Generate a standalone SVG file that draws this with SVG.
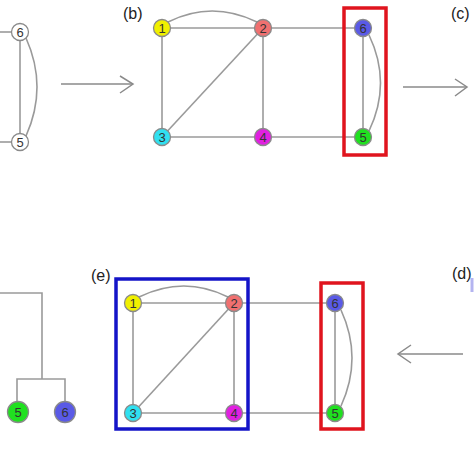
<svg xmlns="http://www.w3.org/2000/svg" width="474" height="474" viewBox="0 0 474 474">
<style>
.e{stroke:#9a9a9a;stroke-width:1.6;fill:none}
.n{stroke:#8a8a8a;stroke-width:1.3}
.t{font-family:"Liberation Sans",Arial,sans-serif;font-size:13px;fill:#333;text-anchor:middle;dominant-baseline:central}
.lab{font-family:"Liberation Sans",Arial,sans-serif;font-size:16px;fill:#222}
.ar{stroke:#8a8a8a;stroke-width:1.5;fill:none}
</style>
<rect width="474" height="474" fill="#fff"/>
<g id="connectors">
<line class="e" x1="0" y1="32" x2="12" y2="32"/>
<line class="e" x1="0" y1="142" x2="12" y2="142"/>
<line class="e" x1="20" y1="32" x2="20" y2="142"/>
<path class="e" d="M26 38 Q48 87 26 136"/>
<line class="e" x1="162" y1="28" x2="263" y2="28"/>
<path class="e" d="M168 22 Q212 0 257 22"/>
<line class="e" x1="162" y1="28" x2="162" y2="137"/>
<line class="e" x1="263" y1="28" x2="263" y2="137"/>
<line class="e" x1="162" y1="137" x2="263" y2="137"/>
<line class="e" x1="162" y1="137" x2="263" y2="28"/>
<line class="e" x1="263" y1="28" x2="363" y2="28"/>
<line class="e" x1="263" y1="137" x2="363" y2="137"/>
<line class="e" x1="363" y1="28" x2="363" y2="137"/>
<path class="e" d="M369 35 Q392 83 369 131"/>
<line class="e" x1="133" y1="303" x2="234" y2="303"/>
<path class="e" d="M139 297 Q184 275 228 297"/>
<line class="e" x1="133" y1="303" x2="133" y2="413"/>
<line class="e" x1="234" y1="303" x2="234" y2="413"/>
<line class="e" x1="133" y1="413" x2="234" y2="413"/>
<line class="e" x1="133" y1="413" x2="234" y2="303"/>
<line class="e" x1="234" y1="303" x2="335" y2="303"/>
<line class="e" x1="234" y1="413" x2="335" y2="413"/>
<line class="e" x1="335" y1="303" x2="335" y2="413"/>
<path class="e" d="M341 310 Q363 358 341 406"/>
<polyline class="e" points="0,293 42,293 42,379"/>
<polyline class="e" points="17,401 17,379 65,379 65,401"/>
<line class="ar" x1="61" y1="84" x2="133" y2="84"/>
<polyline class="ar" points="120,76 133,84 120,93"/>
<line class="ar" x1="403" y1="87" x2="467" y2="87"/>
<polyline class="ar" points="455,79 467,87 455,96"/>
<line class="ar" x1="398" y1="354" x2="463" y2="354"/>
<polyline class="ar" points="411,345 398,354 411,363"/>
</g>
<g id="boxes">
<rect x="344" y="8" width="42" height="147" fill="none" stroke="#e0141e" stroke-width="3.5"/>
<rect x="321" y="283" width="42" height="146" fill="none" stroke="#e0141e" stroke-width="3.5"/>
<rect x="116" y="279" width="132" height="150" fill="none" stroke="#1414c8" stroke-width="3.5"/>
<line x1="472" y1="278" x2="472" y2="292" stroke="#b4b4f0" stroke-width="3"/>
</g>
<g id="labels">
<text class="lab" x="123" y="19">(b)</text>
<text class="lab" x="451" y="19">(c)</text>
<text class="lab" x="91" y="281">(e)</text>
<text class="lab" x="452" y="279">(d)</text>
</g>
<g id="node-a6"><circle class="n" cx="20" cy="32" r="8.5" fill="#fff"/><text class="t" x="20" y="32">6</text></g>
<g id="node-a5"><circle class="n" cx="20" cy="142" r="8.5" fill="#fff"/><text class="t" x="20" y="142">5</text></g>
<g id="node-b1"><circle class="n" cx="162" cy="28" r="8.5" fill="#f0f000"/><text class="t" x="162" y="28">1</text></g>
<g id="node-b2"><circle class="n" cx="263" cy="28" r="8.5" fill="#f07070"/><text class="t" x="263" y="28">2</text></g>
<g id="node-b3"><circle class="n" cx="162" cy="137" r="8.5" fill="#30e0f0"/><text class="t" x="162" y="137">3</text></g>
<g id="node-b4"><circle class="n" cx="263" cy="137" r="8.5" fill="#e020e0"/><text class="t" x="263" y="137">4</text></g>
<g id="node-b6"><circle class="n" cx="363" cy="28" r="8.5" fill="#5a5ae6"/><text class="t" x="363" y="28">6</text></g>
<g id="node-b5"><circle class="n" cx="363" cy="137" r="8.5" fill="#20e020"/><text class="t" x="363" y="137">5</text></g>
<g id="node-e1"><circle class="n" cx="133" cy="303" r="8.5" fill="#f0f000"/><text class="t" x="133" y="303">1</text></g>
<g id="node-e2"><circle class="n" cx="234" cy="303" r="8.5" fill="#f07070"/><text class="t" x="234" y="303">2</text></g>
<g id="node-e3"><circle class="n" cx="133" cy="413" r="8.5" fill="#30e0f0"/><text class="t" x="133" y="413">3</text></g>
<g id="node-e4"><circle class="n" cx="234" cy="413" r="8.5" fill="#e020e0"/><text class="t" x="234" y="413">4</text></g>
<g id="node-d6"><circle class="n" cx="335" cy="303" r="8.5" fill="#5a5ae6"/><text class="t" x="335" y="303">6</text></g>
<g id="node-d5"><circle class="n" cx="335" cy="413" r="8.5" fill="#20e020"/><text class="t" x="335" y="413">5</text></g>
<g id="node-f5"><circle class="n" cx="18" cy="412" r="10.5" fill="#20e020"/><text class="t" x="18" y="412">5</text></g>
<g id="node-f6"><circle class="n" cx="65" cy="412" r="10.5" fill="#5a5ae6"/><text class="t" x="65" y="412">6</text></g>
</svg>
